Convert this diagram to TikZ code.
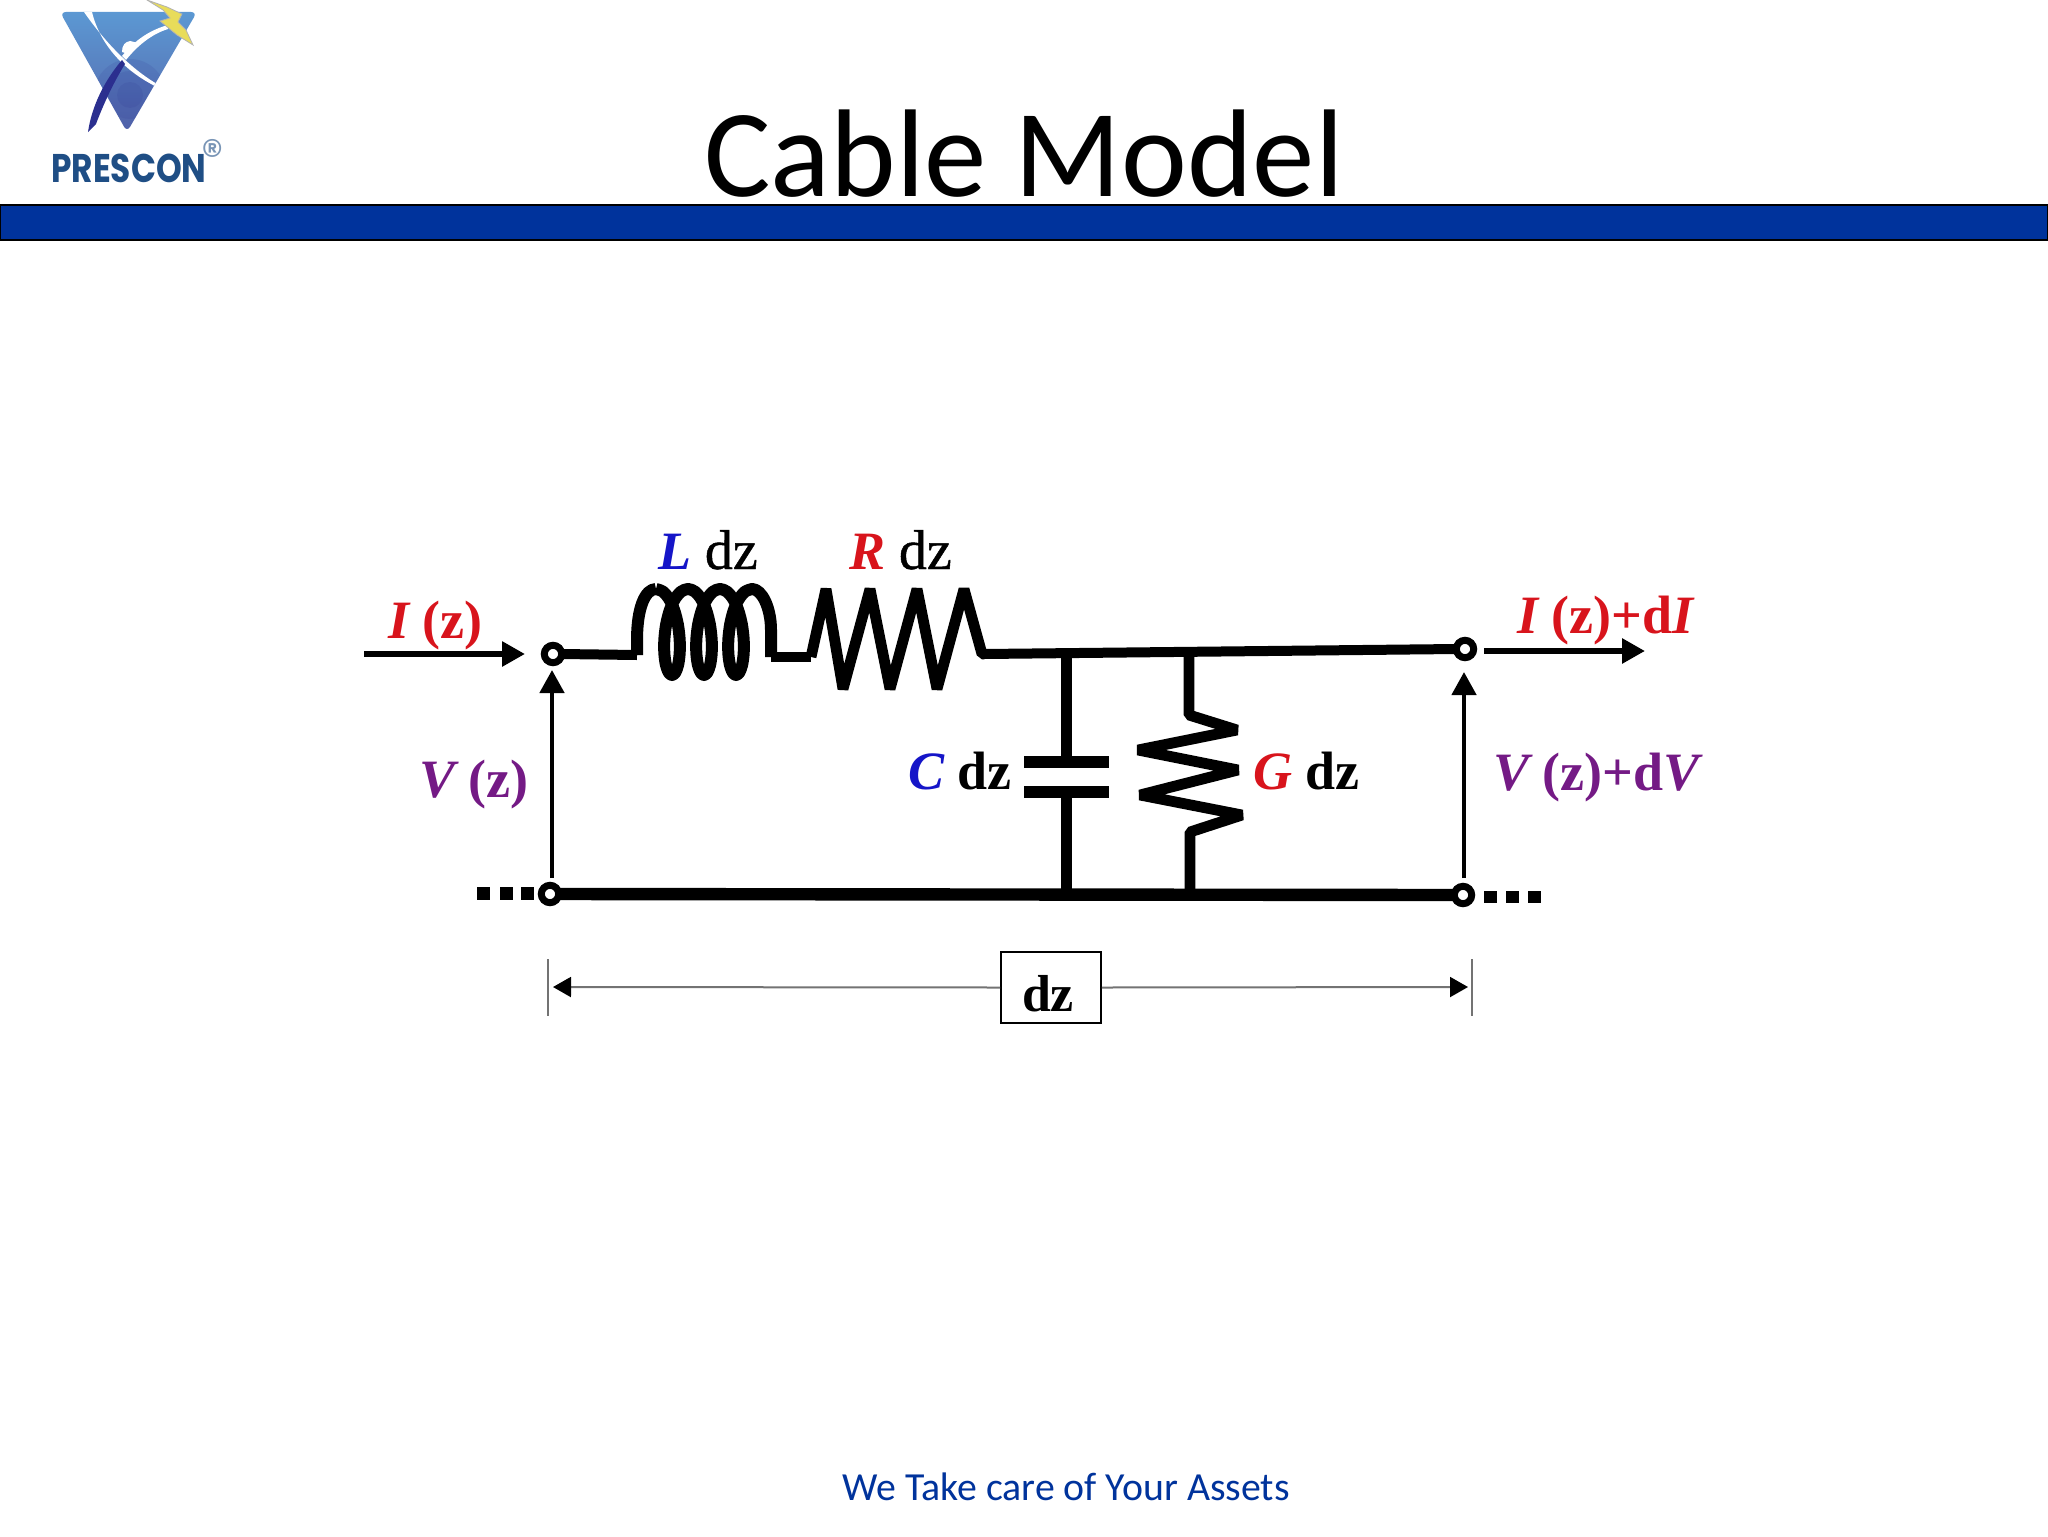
\documentclass[tikz,border=0pt]{standalone}
\usepackage{fontspec}
\usepackage{graphicx}
\usetikzlibrary{arrows.meta}
\setmainfont{Liberation Serif}
\newfontfamily\carlito{Carlito}
\newfontfamily\logofont{Poppins}
\newfontfamily\semiserif[FakeBold=0.8]{Liberation Serif}
\definecolor{bandblue}{HTML}{00339C}
\definecolor{cred}{HTML}{D8141C}
\definecolor{cblue}{HTML}{1515C8}
\definecolor{cpurple}{HTML}{741A85}
\definecolor{logotext}{HTML}{1F4E85}
\definecolor{logodark}{HTML}{2B2F8F}
\definecolor{logoyellow}{HTML}{E8DC5A}
\definecolor{logotop}{HTML}{5C9BD5}
\definecolor{logomid}{HTML}{647DBE}
\definecolor{logobot}{HTML}{5564AA}
\newcommand{\cirfont}{\fontsize{27}{30}\selectfont\bfseries}
\newcommand{\vL}{{\color{cblue}\itshape L}}
\newcommand{\vR}{{\color{cred}\itshape R}}
\newcommand{\vC}{{\color{cblue}\itshape C}}
\newcommand{\vG}{{\color{cred}\itshape G}}
\newcommand{\lightdz}{{\semiserif\fontsize{28}{30}\selectfont\mdseries dz}}
\tikzset{
  x=0.5pt,y=-0.5pt,
  wire/.style={line width=5pt,line cap=butt,line join=miter},
  basewire/.style={line width=6.2pt},
  stemwire/.style={line width=5.5pt},
  coilwire/.style={line width=6pt,line join=round},
  zigzag/.style={line width=5.4pt,line join=bevel},
  term/.style={circle,draw=black,fill=white,line width=3.5pt,minimum size=8.7pt,inner sep=0pt,outer sep=0pt},
  plate/.style={rectangle,fill=black,minimum width=42.5pt,minimum height=5.7pt,inner sep=0pt,outer sep=0pt},
  dotbox/.style={rectangle,fill=black,minimum width=6.5pt,minimum height=6.3pt,inner sep=0pt},
  flow/.style={line width=3pt,-{Triangle[length=11.5pt,width=12pt]}},
  volt/.style={line width=2.3pt,-{Triangle[length=11.5pt,width=12pt]}},
  dimline/.style={line width=1pt,draw=black!55,-{Triangle[length=9pt,width=10pt,black]}},
  tick/.style={line width=.8pt,draw=black!55},
  cirlabel/.style={anchor=base west,inner sep=0pt,font=\cirfont},
}
\begin{document}
\begin{tikzpicture}
\useasboundingbox (0,0) rectangle (2048,1536);
\fill[white] (0,0) rectangle (2048,1536);

% header band and titles
\node[rectangle,draw=black,line width=1pt,fill=bandblue,minimum width=1024pt,minimum height=17.5pt,inner sep=0pt,anchor=north] (band) at (1024,204) {};
\node[anchor=base,inner sep=0pt,font=\carlito\fontsize{62.4}{70}\selectfont] (title) at (1024,196) {Cable Model};
\node[anchor=base,inner sep=0pt,text=bandblue,font=\carlito\fontsize{19.9}{24}\selectfont] (footer) at (1066,1500) {We Take care of Your Assets};

% logo
\begin{scope}
  \clip[rounded corners=3pt] (60,12) -- (197,12) -- (127,132) -- cycle;
  \shade[top color=logotop,middle color=logomid,bottom color=logobot] (50,5) rectangle (205,140);
  \fill[logodark,opacity=.12] (130,95) circle (36);
  \fill[logodark,opacity=.12] (130,95) circle (24);
  \fill[logodark,opacity=.12] (130,95) circle (13);
  \fill[white] (84,12) .. controls (100,35) and (125,65) .. (157,84) -- (159,88) .. controls (125,72) and (100,45) .. (92,12) -- cycle;
\end{scope}
\fill[white] (122,56) .. controls (135,40) and (150,30) .. (168,25) -- (168,29) .. controls (152,34) and (138,45) .. (126,60) -- cycle;
\fill[white] (122,52) .. controls (122,45) and (125,42) .. (130,41) -- (138,43) .. controls (132,46) and (128,49) .. (125,53) -- cycle;
\fill[logodark] (88,132) .. controls (92,105) and (105,80) .. (122,60) -- (125,64) .. controls (112,85) and (102,108) .. (96,124) -- cycle;
\filldraw[fill=logoyellow,draw=black!30,line width=.4pt] (147,0) -- (167,7) -- (182,14) -- (178,22) -- (186,30) -- (193,45) -- (177,35) -- (160,21) -- (170,18) -- (163,10) -- cycle;
\node[anchor=base west,inner sep=0pt,text=logotext,font=\logofont\bfseries\fontsize{20}{24}\selectfont] (logoname) at (51,182) {\scalebox{0.82}[1]{PRESCON}};
\node[anchor=base,inner sep=0pt,text=logotext!60!white,font=\logofont\fontsize{22}{24}\selectfont] (logomark) at (213,170) {®};

% terminals
\node[term] (tl) at (553,654) {};
\node[term] (tr) at (1465,649) {};
\node[term] (bl) at (550,894) {};
\node[term] (br) at (1463,895) {};

% named junctions
\coordinate (coilA) at (637,655);
\coordinate (coilB) at (771,657);
\coordinate (resA) at (811,657);
\coordinate (resB) at (984,654);
\coordinate (cTop) at (1066,651);
\coordinate (cBot) at (1066,895);
\coordinate (gTop) at (1189,650);
\coordinate (gBot) at (1190,895);

% wires
\draw[wire] (tl.east) -- (coilA);
\draw[wire] (resB) -- (tr.west);
\draw[basewire] (bl.east) -- (br.west);

% inductor
\draw[coilwire] (coilA) -- (637,640) .. controls (637,608) and (645,589) .. (656,589)
  plot[smooth,samples=55,domain=0:1080] ({656+0.0889*\x+15*sin(\x)},{632-43*cos(\x)})
  .. controls (762,589) and (771,608) .. (771,630) -- (coilB);
\draw[wire] (coilB) -- (resA);

% series resistor
\draw[zigzag] (resA) -- (826,589) -- (843,689) -- (870,589) -- (890,689) -- (917,589) -- (937,689) -- (964,589) -- (982,654) -- (resB);

% capacitor
\node[plate] (p1) at (1066,762) {};
\node[plate] (p2) at (1066,792) {};
\draw[stemwire] (cTop) -- (p1.north);
\draw[stemwire] (p2.south) -- (cBot);

% shunt resistor
\draw[zigzag] (gTop) -- (1189,715) -- (1237,730) -- (1138,750) -- (1238,770) -- (1140,795) -- (1242,815) -- (1190,832) -- (gBot);

% end dots
\node[dotbox] at (483,893.5) (dl1) {};
\node[dotbox] at (506,893.5) (dl2) {};
\node[dotbox] at (527,893.5) (dl3) {};
\node[dotbox] at (1490,897) (dr1) {};
\node[dotbox] at (1512,897) (dr2) {};
\node[dotbox] at (1534,897) (dr3) {};

% current and voltage arrows
\coordinate (iInS) at (364,654);
\coordinate (iInE) at (525,654);
\coordinate (iOutS) at (1484,651);
\coordinate (iOutE) at (1645,651);
\coordinate (vLs) at (552,878);
\coordinate (vLe) at (552,670);
\coordinate (vRs) at (1464,878);
\coordinate (vRe) at (1464,672);
\draw[flow] (iInS) -- (iInE);
\draw[flow] (iOutS) -- (iOutE);
\draw[volt] (vLs) -- (vLe);
\draw[volt] (vRs) -- (vRe);

% labels
\node[cirlabel,text=cred] (lI) at (388,638) {{\itshape I}\ (z)};
\node[cirlabel] (lL) at (658,569) {\vL\ \lightdz};
\node[cirlabel] (lR) at (849,569) {\vR\ \lightdz};
\node[cirlabel,text=cred] (lIo) at (1517,633) {{\itshape I}\ (z)+d{\itshape I}};
\node[cirlabel,text=cpurple] (lV) at (419,797) {{\itshape V}\ (z)};
\node[cirlabel] (lC) at (908,789) {\vC\ dz};
\node[cirlabel] (lG) at (1253,789) {\vG\ dz};
\node[cirlabel,text=cpurple] (lVo) at (1493,790) {{\itshape V}\ (z)+d{\itshape V}};

% dimension
\node[rectangle,draw=black,line width=.9pt,fill=white,minimum width=50pt,minimum height=35.5pt,inner sep=0pt] (dzbox) at (1051,987.5) {};
\node[anchor=base,inner sep=0pt,font=\fontsize{26}{30}\selectfont\bfseries] (dzlab) at (1048,1011) {dz};
\coordinate (dimL) at (553,987);
\coordinate (dimR) at (1468,987);
\draw[dimline] (dzbox.west) -- (dimL);
\draw[dimline] (dzbox.east) -- (dimR);
\coordinate (tickLa) at (548,959);
\coordinate (tickLb) at (548,1016);
\coordinate (tickRa) at (1472,959);
\coordinate (tickRb) at (1472,1016);
\draw[tick] (tickLa) -- (tickLb);
\draw[tick] (tickRa) -- (tickRb);
\end{tikzpicture}
\end{document}
